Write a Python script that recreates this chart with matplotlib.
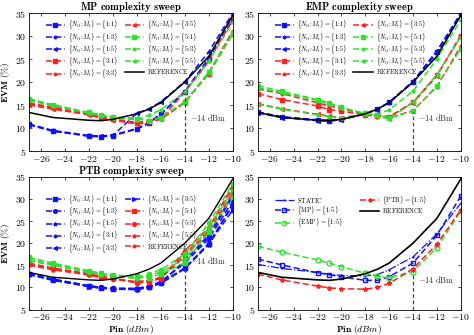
import matplotlib
matplotlib.use('Agg')
import matplotlib.pyplot as plt
from matplotlib.ticker import FuncFormatter
from matplotlib.lines import Line2D

plt.rcParams['mathtext.fontset'] = 'cm'
plt.rcParams['font.family'] = 'DejaVu Serif'

# ===== Данные =====
pin = [-27, -25, -22, -21, -20, -18, -17, -16, -14, -12, -10]
reference = [13.4, 12.3, 11.7, 11.6, 11.9, 13.1, 14.1, 15.5, 20.0, 25.6, 34.5]

# MP complexity sweep
mp_11 = [10.8, 9.4, 8.2, 8.1, 8.3, 9.8, 11.0, 13.0, 17.8, 25.0, 33.5]
mp_13 = [10.9, 9.5, 8.4, 8.3, 8.5, 9.9, 11.2, 13.1, 18.0, 25.2, 34.0]
mp_15 = [10.7, 9.3, 8.3, 8.2, 8.4, 13.2, 14.2, 15.7, 20.1, 26.6, 35.0]
mp_31 = [15.5, 14.5, 13.2, 12.5, 12.0, 11.2, 11.6, 12.2, 15.6, 21.8, 30.5]
mp_33 = [15.3, 14.3, 13.0, 12.3, 11.8, 11.0, 11.4, 12.0, 17.8, 24.5, 34.0]
mp_35 = [15.0, 14.1, 12.9, 12.2, 11.7, 10.9, 11.3, 11.9, 15.5, 22.0, 31.2]
mp_51 = [16.4, 15.1, 13.4, 12.9, 12.4, 12.0, 11.6, 12.3, 15.7, 22.2, 30.7]
mp_53 = [16.0, 14.8, 13.2, 12.7, 12.2, 11.8, 12.8, 14.0, 17.8, 24.6, 33.0]
mp_55 = [16.2, 15.0, 13.3, 12.8, 12.3, 12.2, 11.5, 12.3, 15.6, 21.9, 30.5]

# EMP complexity sweep
emp_11 = [13.4, 12.4, 11.7, 11.6, 11.9, 13.1, 14.1, 15.6, 20.1, 26.6, 35.0]
emp_13 = [13.5, 12.5, 11.8, 11.7, 12.0, 13.0, 14.2, 15.5, 20.0, 26.3, 34.6]
emp_15 = [13.3, 12.3, 11.6, 11.5, 11.8, 13.1, 14.0, 15.6, 20.2, 26.8, 34.8]
emp_31 = [17.5, 16.2, 14.8, 14.0, 13.7, 12.8, 12.6, 12.4, 15.6, 21.5, 30.0]
emp_33 = [18.5, 17.5, 15.5, 14.8, 14.2, 13.0, 12.5, 12.2, 13.8, 19.0, 27.8]
emp_35 = [15.3, 14.2, 13.0, 12.6, 12.3, 13.0, 12.8, 12.5, 15.5, 21.3, 30.2]
emp_51 = [19.2, 18.0, 16.2, 15.5, 14.5, 13.2, 12.9, 12.2, 13.7, 19.2, 27.2]
emp_53 = [15.2, 14.1, 12.9, 12.5, 12.2, 13.1, 12.9, 14.0, 18.0, 25.0, 33.5]
emp_55 = [18.8, 17.7, 16.0, 15.2, 14.4, 13.1, 12.6, 12.0, 15.6, 21.6, 29.8]

# PTB complexity sweep
ptb_11 = [13.0, 11.7, 10.3, 9.9, 9.7, 9.6, 10.1, 11.0, 14.3, 19.8, 27.5]
ptb_13 = [13.1, 11.8, 10.4, 10.0, 9.8, 9.7, 10.2, 11.1, 14.4, 20.0, 28.5]
ptb_15 = [12.9, 11.6, 10.2, 9.8, 9.6, 9.5, 10.0, 10.9, 14.2, 19.7, 29.0]
ptb_31 = [13.2, 11.9, 10.4, 10.0, 9.8, 9.8, 10.3, 11.3, 15.5, 21.0, 29.5]
ptb_33 = [13.0, 11.8, 10.3, 9.9, 9.7, 9.7, 10.2, 11.2, 15.8, 21.5, 30.5]
ptb_35 = [13.1, 11.7, 10.2, 9.9, 9.7, 9.6, 10.1, 11.1, 16.0, 22.0, 31.0]
ptb_51 = [15.5, 14.4, 13.1, 12.5, 12.1, 11.2, 11.5, 12.1, 17.0, 22.5, 31.5]
ptb_53 = [15.3, 14.2, 13.0, 12.3, 12.0, 11.0, 11.3, 12.0, 18.3, 23.5, 33.0]
ptb_55 = [15.0, 14.0, 12.8, 12.2, 11.8, 11.3, 11.6, 12.3, 17.5, 23.0, 32.5]
ptb_g1 = [16.8, 15.5, 13.8, 13.2, 12.8, 12.5, 12.2, 13.0, 15.5, 22.5, 30.5]
ptb_g2 = [16.4, 15.2, 13.6, 13.0, 12.6, 12.3, 13.0, 14.0, 17.5, 24.5, 33.5]
ptb_g3 = [16.0, 15.0, 13.4, 12.9, 12.5, 12.0, 12.5, 13.5, 16.5, 23.5, 32.0]

# Сравнение при {1:5}
static = [15.2, 14.3, 13.4, 13.0, 12.7, 12.6, 12.9, 14.0, 16.9, 22.1, 29.0]
cmp_mp = [16.4, 15.1, 13.3, 12.9, 12.4, 11.6, 11.6, 12.4, 15.5, 21.8, 30.6]
cmp_emp = [19.3, 18.0, 16.2, 15.5, 14.7, 13.2, 12.5, 12.2, 13.6, 19.0, 27.2]
cmp_ptb = [13.0, 11.7, 10.3, 9.9, 9.7, 9.6, 10.0, 10.9, 14.2, 19.8, 27.5]

xticks = [-26, -24, -22, -20, -18, -16, -14, -12, -10]
yticks = [5, 10, 15, 20, 25, 30, 35]

BLUE = '#1010ff'
RED = '#ff2020'
GREEN = '#30e030'
DASH = (0, (4, 2))


def lab(a, b):
    return r'$\{N_{tl}\!:\!M_{t}\}=\{%d\!:\!%d\}$' % (a, b)


def style_axes(ax, title, vline_top, text_y):
    ax.set_xlim(-27, -10)
    ax.set_ylim(5, 35)
    ax.set_xticks(xticks)
    ax.set_yticks(yticks)
    fmt = FuncFormatter(lambda v, p: '$%g$' % v)
    ax.xaxis.set_major_formatter(fmt)
    ax.yaxis.set_major_formatter(fmt)
    ax.tick_params(direction='in', top=True, right=True, labelsize=7,
                   length=2.5, width=0.5, pad=2)
    for s in ax.spines.values():
        s.set_linewidth(0.6)
    if title:
        ax.set_title(r'$\mathbf{%s}$' % title.replace(' ', r'\ '), fontsize=7.5, pad=2)
    ax.plot([-14, -14], [5, vline_top], color='#444444', ls=(0, (3, 2)), lw=0.9)
    ax.text(-13.6, text_y, r'$-14\ \mathrm{dBm}$', fontsize=6, color='#333333',
            va='center')


def dline(ax, y, color, marker, label=None, ms=2.8, ls=DASH, mfc=None):
    ax.plot(pin, y, color=color, ls=ls, lw=1.1, marker=marker, ms=ms,
            mfc=mfc if mfc else color, label=label)


fig = plt.figure(figsize=(4.74, 3.35), dpi=100)
ax1 = fig.add_axes([0.061, 0.549, 0.430, 0.412])
ax2 = fig.add_axes([0.544, 0.549, 0.428, 0.412])
ax3 = fig.add_axes([0.061, 0.076, 0.430, 0.396])
ax4 = fig.add_axes([0.544, 0.076, 0.428, 0.396])

leg_kw = dict(loc='upper left', ncol=2, fontsize=4.6, frameon=False,
              handlelength=3.0, handletextpad=0.5, columnspacing=0.9,
              labelspacing=-0.12, borderaxespad=0.0, markerscale=0.9,
              bbox_to_anchor=(0.07, 0.98))

# ===== 1-2. MP и EMP =====
for ax, data in ((ax1, [mp_11, mp_13, mp_15, mp_31, mp_33, mp_35, mp_51, mp_53, mp_55]),
                 (ax2, [emp_11, emp_13, emp_15, emp_31, emp_33, emp_35, emp_51, emp_53, emp_55])):
    dline(ax, data[0], BLUE, 's', lab(1, 1))
    dline(ax, data[1], BLUE, '.', lab(1, 3), ms=4)
    dline(ax, data[2], BLUE, '<', lab(1, 5))
    dline(ax, data[3], RED, 's', lab(3, 1))
    dline(ax, data[4], RED, '.', lab(3, 3), ms=4)
    dline(ax, data[5], RED, '<', lab(3, 5))
    dline(ax, data[6], GREEN, 's', lab(5, 1))
    dline(ax, data[7], GREEN, '.', lab(5, 3), ms=4)
    dline(ax, data[8], GREEN, '<', lab(5, 5))
    ax.plot(pin, reference, color='black', lw=1.1, label=r'$\mathrm{REFERENCE}$')
    ax.legend(**leg_kw)

style_axes(ax1, 'MP complexity sweep', 17.6, 12.3)
style_axes(ax2, 'EMP complexity sweep', 13.6, 12.3)

# ===== 3. PTB =====
for y, c, m, a, b in ((ptb_11, BLUE, 's', 1, 1), (ptb_13, BLUE, 'o', 1, 3),
                      (ptb_15, BLUE, '*', 1, 5), (ptb_31, BLUE, '.', 3, 1),
                      (ptb_33, BLUE, '<', 3, 3), (ptb_35, BLUE, '>', 3, 5),
                      (ptb_51, RED, 's', 5, 1), (ptb_53, RED, 'o', 5, 3),
                      (ptb_55, RED, '*', 5, 5)):
    dline(ax3, y, c, m, lab(a, b), ms=3 if m != '.' else 4)
for y, m in ((ptb_g1, 's'), (ptb_g2, 'o'), (ptb_g3, '*')):
    dline(ax3, y, GREEN, m, ms=3)
ax3.plot(pin, reference, color='black', lw=1.0)
handles, labels = ax3.get_legend_handles_labels()
handles.append(Line2D([], [], color=RED, ls=DASH, lw=1.1, marker='.', ms=4))
labels.append(r'$\mathrm{REFERENCE}$')
ax3.legend(handles, labels, **dict(leg_kw, bbox_to_anchor=(0.07, 0.9)))
style_axes(ax3, 'PTB complexity sweep', 14.3, 16.0)

# ===== 4. Сравнение =====
ax4.plot(pin, static, color=BLUE, ls='-.', lw=0.9, marker='.', ms=1.5,
         label=r'$\mathrm{STATIC}$')
dline(ax4, cmp_mp, BLUE, 's', r'$\{\mathrm{MP}\}=\{1\!:\!5\}$', ms=3.2, mfc='none')
dline(ax4, cmp_emp, GREEN, 'o', r'$\{\mathrm{EMP}\}=\{1\!:\!5\}$', ms=3.5, mfc='none')
dline(ax4, cmp_ptb, RED, '*', r'$\{\mathrm{PTB}\}=\{1\!:\!5\}$', ms=3.2)
ax4.plot(pin, reference, color='black', lw=1.2, label=r'$\mathrm{REFERENCE}$')
ax4.legend(**dict(leg_kw, bbox_to_anchor=(0.07, 0.89), columnspacing=2.6))
style_axes(ax4, '', 14.0, 11.7)

for ax in (ax1, ax3):
    ax.set_ylabel(r'$\mathbf{EVM\ (\%)}$', fontsize=6.8)
    ax.yaxis.set_label_coords(-0.082, 0.5)
for ax in (ax3, ax4):
    ax.set_xlabel(r'$\mathbf{Pin}\ \mathit{(dBm)}$', fontsize=6.8)
    ax.xaxis.set_label_coords(0.5, -0.1)

plt.savefig('out.png', dpi=100)
